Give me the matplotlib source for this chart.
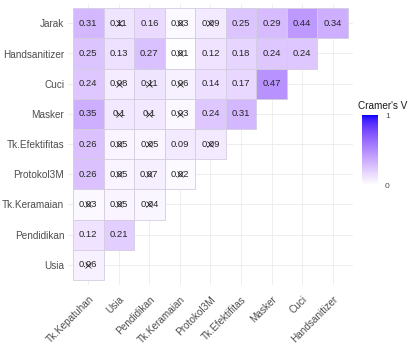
import matplotlib.pyplot as plt
import numpy as np
from matplotlib.colors import ListedColormap

plt.rcParams['font.family'] = ['Liberation Sans', 'DejaVu Sans']

# columns (left to right) and rows (top to bottom)
col_labels = ['Tk.Kepatuhan', 'Usia', 'Pendidikan', 'Tk.Keramaian', 'Protokol3M',
              'Tk.Efektifitas', 'Masker', 'Cuci', 'Handsanitizer']
row_labels = ['Jarak', 'Handsanitizer', 'Cuci', 'Masker', 'Tk.Efektifitas',
              'Protokol3M', 'Tk.Keramaian', 'Pendidikan', 'Usia']

# Cramer's V per row, one value per column (row i has 9 - i cells)
values = [
    [0.31, 0.11, 0.16, 0.03, 0.09, 0.25, 0.29, 0.44, 0.34],
    [0.25, 0.13, 0.27, 0.01, 0.12, 0.18, 0.24, 0.24],
    [0.24, 0.08, 0.11, 0.06, 0.14, 0.17, 0.47],
    [0.35, 0.10, 0.10, 0.03, 0.24, 0.31],
    [0.26, 0.05, 0.05, 0.09, 0.09],
    [0.26, 0.05, 0.07, 0.02],
    [0.03, 0.05, 0.04],
    [0.12, 0.21],
    [0.06],
]
# 1 = not significant (crossed out)
crossed = [
    [0, 1, 0, 1, 1, 0, 0, 0, 0],
    [0, 0, 0, 1, 0, 0, 0, 0],
    [0, 1, 1, 1, 0, 0, 0],
    [0, 1, 1, 1, 0, 0],
    [0, 1, 1, 0, 1],
    [0, 1, 1, 1],
    [1, 1, 1],
    [0, 0],
    [1],
]


# white -> blue gradient interpolated in Lab space (like ggplot)
def srgb_to_lab(rgb):
    rgb = np.asarray(rgb, float)
    lin = np.where(rgb <= 0.04045, rgb / 12.92, ((rgb + 0.055) / 1.055) ** 2.4)
    m = np.array([[0.4124, 0.3576, 0.1805],
                  [0.2126, 0.7152, 0.0722],
                  [0.0193, 0.1192, 0.9505]])
    xyz = m @ lin / np.array([0.95047, 1.0, 1.08883])
    f = np.where(xyz > 0.008856, np.cbrt(xyz), 7.787 * xyz + 16 / 116)
    return np.array([116 * f[1] - 16, 500 * (f[0] - f[1]), 200 * (f[1] - f[2])])


def lab_to_srgb(lab):
    L, a, b = lab
    fy = (L + 16) / 116
    fx = fy + a / 500
    fz = fy - b / 200
    f = np.array([fx, fy, fz])
    xyz = np.where(f ** 3 > 0.008856, f ** 3, (f - 16 / 116) / 7.787)
    xyz = xyz * np.array([0.95047, 1.0, 1.08883])
    minv = np.array([[3.2406, -1.5372, -0.4986],
                     [-0.9689, 1.8758, 0.0415],
                     [0.0557, -0.2040, 1.0570]])
    lin = minv @ xyz
    lin = np.clip(lin, 0, 1)
    rgb = np.where(lin <= 0.0031308, 12.92 * lin, 1.055 * lin ** (1 / 2.4) - 0.055)
    return np.clip(rgb, 0, 1)


lab_lo = srgb_to_lab([1, 1, 1])
lab_hi = srgb_to_lab([0, 0, 1])
cmap = ListedColormap([lab_to_srgb(lab_lo + t * (lab_hi - lab_lo))
                       for t in np.linspace(0, 1, 256)])

fig = plt.figure(figsize=(4.14, 3.44), dpi=100)
W, H = 414, 344
cw, rh = 30.55, 30.2
ax = fig.add_axes([(73 - 0.15 * cw) / W, (H - 280 - 0.15 * rh) / H,
                   9.3 * cw / W, 9.3 * rh / H])
ax.set_xlim(-0.65, 8.65)
ax.set_ylim(-0.65, 8.65)

ax.set_xticks(range(9))
ax.set_yticks(range(9))
ax.grid(True, color='#ebebeb', linewidth=0.6, zorder=0)
ax.set_axisbelow(True)
for s in ax.spines.values():
    s.set_visible(False)
ax.tick_params(axis='y', length=0, pad=3)
ax.tick_params(axis='x', length=0, pad=7)

for i, (row, xs) in enumerate(zip(values, crossed)):
    y = 8 - i
    for j, (v, c) in enumerate(zip(row, xs)):
        ax.add_patch(plt.Rectangle((j - 0.5, y - 0.5), 1, 1, facecolor=cmap(v),
                                   edgecolor='#d3cde0', linewidth=0.6, zorder=2))
        ax.text(j, y, f"{v:g}", ha='center', va='center', fontsize=6.8,
                color='#262626', zorder=3)
        if c:
            ax.plot(j, y, marker='x', ms=5, mew=0.55, color='#222222', zorder=4)

ax.set_yticklabels(row_labels[::-1], fontsize=7.2, color='#4d4d4d')
ax.set_xticklabels(col_labels, fontsize=7.2, color='#4d4d4d', rotation=45,
                   ha='right', va='top', rotation_mode='anchor')

# colour legend
cax = fig.add_axes([362 / W, (H - 185) / H, 16 / W, 70 / H])
grad = np.linspace(0, 1, 200).reshape(-1, 1)
cax.imshow(grad, cmap=cmap, aspect='auto', origin='lower', extent=[0, 1, 0, 1])
cax.set_xticks([])
cax.yaxis.tick_right()
cax.set_yticks([0, 1])
cax.set_yticklabels(['0', '1'], fontsize=6, color='#4d4d4d')
cax.tick_params(length=0, pad=5)
for s in cax.spines.values():
    s.set_visible(False)
fig.text(358 / W, (H - 106) / H, "Cramer's V", fontsize=7.2, color='#1a1a1a',
         ha='left', va='center')

fig.savefig('out.png', dpi=100)
